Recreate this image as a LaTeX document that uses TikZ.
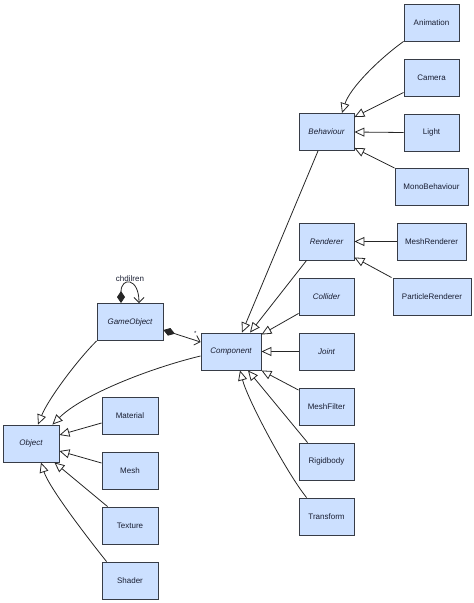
\documentclass[tikz,border=0pt]{standalone}
\usepackage{fontspec}
\setmainfont{Liberation Sans}
\usetikzlibrary{arrows.meta}
\definecolor{boxfill}{RGB}{204,224,255}
\definecolor{boxline}{RGB}{55,60,70}
\definecolor{txt}{RGB}{25,30,50}
\begin{document}
\begin{tikzpicture}[x=1pt,y=-1pt,
  cls/.style={draw=boxline,fill=boxfill,line width=0.9pt,minimum height=37pt,inner sep=0pt,
    font=\fontsize{8}{9}\selectfont,text=txt},
  abs/.style={cls,font=\fontsize{8}{9}\selectfont\itshape},
  inh/.style={draw=black!85,line width=0.8pt,-{Triangle[open,length=10pt,width=9pt,fill=white]}},
  comp/.style={draw=black!85,line width=0.8pt,{Diamond[length=12pt,width=8pt]}-{Straight Barb[length=5pt,width=10pt]}}
]
\useasboundingbox (0,0) rectangle (474,603);
% nodes
\node[cls,minimum width=55pt] (Animation) at (431.5,22.5) {Animation};
\node[cls,minimum width=55pt] (Camera) at (431.5,77.5) {Camera};
\node[cls,minimum width=55pt] (Light) at (431.5,132.5) {Light};
\node[cls,minimum width=73pt] (MonoBehaviour) at (431.5,187) {MonoBehaviour};
\node[abs,minimum width=55pt] (Behaviour) at (326.5,132) {Behaviour};
\node[abs,minimum width=55pt] (Renderer) at (326.5,241.5) {Renderer};
\node[cls,minimum width=69pt] (MeshRenderer) at (431.5,241.5) {MeshRenderer};
\node[cls,minimum width=78pt] (ParticleRenderer) at (432,296.5) {ParticleRenderer};
\node[abs,minimum width=55pt] (Collider) at (326.5,296.5) {Collider};
\node[abs,minimum width=55pt] (Joint) at (326.5,351.5) {Joint};
\node[abs,minimum width=60pt] (Component) at (231,351.5) {Component};
\node[cls,minimum width=55pt] (MeshFilter) at (326.5,407) {MeshFilter};
\node[cls,minimum width=55pt] (Rigidbody) at (326.5,461.5) {Rigidbody};
\node[cls,minimum width=55pt] (Transform) at (326.5,516.5) {Transform};
\node[abs,minimum width=66pt] (GameObject) at (130,322) {GameObject};
\node[abs,minimum width=56pt] (Object) at (31,443.5) {Object};
\node[cls,minimum width=56pt] (Material) at (130,415.5) {Material};
\node[cls,minimum width=56pt] (Mesh) at (130,470.5) {Mesh};
\node[cls,minimum width=56pt] (Texture) at (130,525.5) {Texture};
\node[cls,minimum width=56pt] (Shader) at (130,580.5) {Shader};
% Behaviour subclasses
\draw[inh] (Animation.south west) .. controls +(-25,18) and +(8,-25) .. ([xshift=15.5pt]Behaviour.north);
\draw[inh] ([yshift=4pt]Camera.south west) -- ([yshift=-4pt]Behaviour.north east);
\draw[inh] (Light.west) -- (Behaviour.east);
\draw[inh] (MonoBehaviour.north west) -- ([yshift=3pt]Behaviour.south east);
% Renderer subclasses
\draw[inh] (MeshRenderer.west) -- (Renderer.east);
\draw[inh] ([xshift=-1pt]ParticleRenderer.north west) -- ([yshift=3pt]Renderer.south east);
% Component subclasses
\draw[inh] ([xshift=-8.5pt]Behaviour.south) -- ([xshift=11pt]Component.north);
\draw[inh] ([xshift=8pt]Renderer.south west) -- ([xshift=19pt]Component.north);
\draw[inh] ([yshift=2pt]Collider.south west) -- ([yshift=-2pt]Component.north east);
\draw[inh] (Joint.west) -- (Component.east);
\draw[inh] ([yshift=-2pt]MeshFilter.north west) -- (Component.south east);
\draw[inh] ([xshift=9pt]Rigidbody.north west) -- ([xshift=17pt]Component.south);
\draw[inh] ([xshift=8pt]Transform.north west) .. controls +(-20,-25) and +(8,30) .. ([xshift=9pt]Component.south);
% Object subclasses
\draw[inh] (GameObject.south west) .. controls +(-20,20) and +(10,-25) .. ([xshift=7pt]Object.north);
\draw[inh] ([yshift=-4.5pt]Component.west) .. controls +(-50,12) and +(30,-30) .. ([xshift=-7pt]Object.north east);
\draw[inh] ([yshift=-7.5pt]Material.west) -- ([yshift=8.5pt]Object.east);
\draw[inh] ([yshift=7.5pt]Mesh.west) -- ([yshift=-7.5pt]Object.east);
\draw[inh] ([xshift=6pt]Texture.north west) -- ([xshift=-5pt]Object.south east);
\draw[inh] ([xshift=5pt]Shader.north west) .. controls +(-20,-25) and +(8,25) .. ([xshift=10pt]Object.south);
% composition
\draw[comp] ([yshift=-8pt]GameObject.east) -- ([yshift=9.5pt]Component.west)
  node[pos=0.86,above=1pt,font=\fontsize{6}{6}\selectfont,text=txt] (star) {*};
\draw[comp] ([xshift=-9pt]GameObject.north) .. controls +(0,-26) and +(0,-26) .. ([xshift=9pt]GameObject.north);
\node[font=\fontsize{8}{9}\selectfont,text=txt] (lbl) at (130,279) {chdilren};
\end{tikzpicture}
\end{document}
